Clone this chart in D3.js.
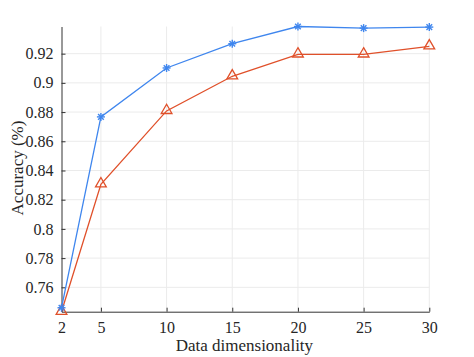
<!DOCTYPE html>
<html><head><meta charset="utf-8">
<script src="https://cdn.jsdelivr.net/npm/d3@7"></script>
<style>body{margin:0;background:#fff}svg{display:block}svg text{font-family:"Liberation Serif","Times New Roman",serif !important;fill:#262626}</style>
</head><body><svg id="c" width="474" height="357"></svg>
<script>
const dims = [2, 5, 10, 15, 20, 25, 30];
const seriesBlue = [0.746, 0.8767, 0.9102, 0.9268, 0.9386, 0.9375, 0.9382];
const seriesRed = [0.7433, 0.8306, 0.8808, 0.9045, 0.9195, 0.9195, 0.925];
const yTicks = [0.76, 0.78, 0.8, 0.82, 0.84, 0.86, 0.88, 0.9, 0.92];
const yTickLabels = ["0.76", "0.78", "0.8", "0.82", "0.84", "0.86", "0.88", "0.9", "0.92"];
const xLabel = "Data dimensionality";
const yLabel = "Accuracy (%)";

const svg = d3.select("#c");
const L = 61.5, R = 429.3, T = 26.5, B = 311.7;
const x = d3.scaleLinear().domain([2, 30]).range([L, R]);
const y = d3.scaleLinear().domain([0.7433, 0.9386]).range([B, T]);

// grid
const g = svg.append("g");
g.selectAll(".gx").data(dims.slice(1)).enter().append("line")
  .attr("x1", d => x(d)).attr("x2", d => x(d)).attr("y1", B).attr("y2", T)
  .attr("stroke", "#ebebeb").attr("stroke-width", 1);
g.selectAll(".gy").data(yTicks).enter().append("line")
  .attr("x1", L).attr("x2", R).attr("y1", d => y(d)).attr("y2", d => y(d))
  .attr("stroke", "#ebebeb").attr("stroke-width", 1);

// axes
const xAxis = d3.axisBottom(x).tickValues(dims).tickSizeInner(-4).tickSizeOuter(0).tickPadding(10);
const yAxis = d3.axisLeft(y).tickValues(yTicks).tickFormat((d, i) => yTickLabels[i]).tickSizeInner(-4).tickSizeOuter(0).tickPadding(8);
const gx = svg.append("g").attr("transform", `translate(0,${B})`).call(xAxis);
const gy = svg.append("g").attr("transform", `translate(${L},0)`).call(yAxis);
[gx, gy].forEach(a => {
  a.attr("font-family", null);
  a.select(".domain").attr("stroke", "#333").attr("stroke-width", 1);
  a.selectAll(".tick line").attr("stroke", "#333");
  a.selectAll(".tick text").attr("font-size", 16).attr("fill", "#262626");
});

// lines
const line = d3.line().x((d, i) => x(dims[i])).y(d => y(d));
const blue = "#3f86ee", red = "#e0502a";
svg.append("path").datum(seriesRed).attr("d", line).attr("fill", "none").attr("stroke", red).attr("stroke-width", 1.3);
svg.append("path").datum(seriesBlue).attr("d", line).attr("fill", "none").attr("stroke", blue).attr("stroke-width", 1.3);

// red triangles
const tri = d3.symbol().type(d3.symbolTriangle).size(50);
svg.selectAll(".tr").data(seriesRed).enter().append("path")
  .attr("d", tri).attr("transform", (d, i) => `translate(${x(dims[i])},${y(d) - 0.5})`)
  .attr("fill", "none").attr("stroke", red).attr("stroke-width", 1.3);

// blue asterisks
const star = svg.selectAll(".st").data(seriesBlue).enter().append("g")
  .attr("transform", (d, i) => `translate(${x(dims[i])},${y(d)})`);
[0, 45, 90, 135].forEach(a => {
  star.append("line").attr("x1", -4).attr("x2", 4).attr("y1", 0).attr("y2", 0)
    .attr("transform", `rotate(${a})`).attr("stroke", blue).attr("stroke-width", 1.4);
});

// labels
svg.append("text").attr("x", (L + R) / 2 - 1).attr("y", 351).attr("text-anchor", "middle").attr("font-size", 17).text(xLabel);
svg.append("text").attr("transform", "translate(23,168) rotate(-90)").attr("text-anchor", "middle").attr("font-size", 17).text(yLabel);
</script></body></html>
